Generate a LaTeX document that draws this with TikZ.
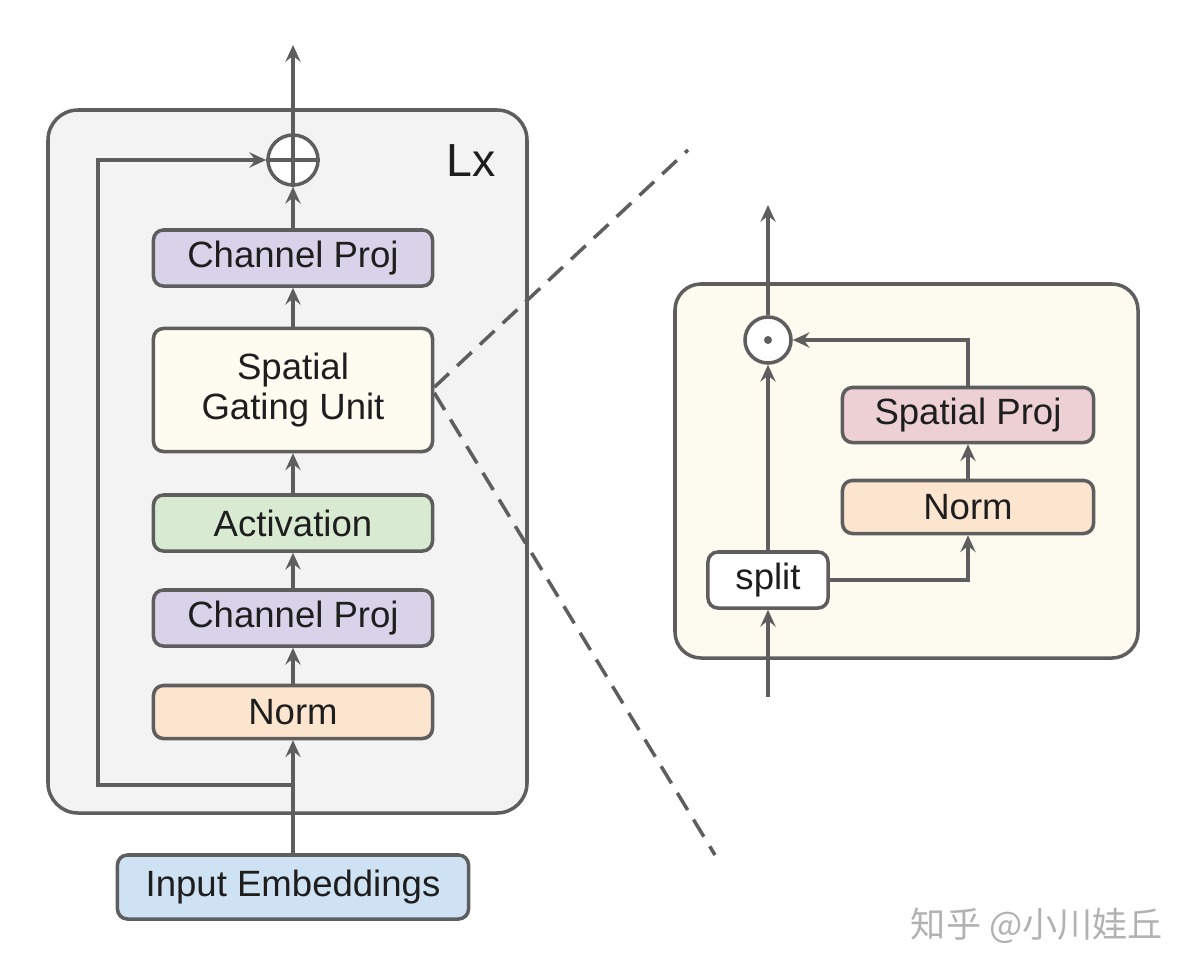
\documentclass[tikz,border=0pt]{standalone}
\usepackage{fontspec}
\setmainfont{Liberation Sans}
\newfontfamily\cjk{Noto Sans CJK SC}
\usetikzlibrary{arrows.meta}
\definecolor{edge}{HTML}{5E5E5E}
\definecolor{txt}{HTML}{1E1E1E}
\definecolor{outerbg}{HTML}{F3F3F3}
\definecolor{innerbg}{HTML}{FDFBEF}
\definecolor{projcol}{HTML}{D9D3EA}
\definecolor{gatecol}{HTML}{FEFCF0}
\definecolor{actcol}{HTML}{D9EAD3}
\definecolor{normcol}{HTML}{FBE5CF}
\definecolor{embcol}{HTML}{CFE2F3}
\definecolor{spcol}{HTML}{EDD0D4}
\tikzset{
  blk/.style={draw=edge, line width=2.5pt, rounded corners=0.25cm, minimum width=6.975cm,
    minimum height=1.4cm, inner sep=0pt, text=txt, font=\fontsize{26}{28.5}\selectfont},
  smallblk/.style={blk, minimum width=6.275cm, minimum height=1.375cm},
  op/.style={draw=edge, line width=2.5pt, circle, fill=white, inner sep=0pt},
  flow/.style={draw=edge, line width=2.5pt, -{Stealth[length=0.42cm,width=0.38cm,inset=0.15cm]}},
  plain/.style={draw=edge, line width=2.5pt},
  zoomline/.style={draw=edge, line width=2.5pt, dash pattern=on 0.5cm off 0.28cm},
  panel/.style={draw=edge, line width=2.5pt, rounded corners=0.75cm}
}
\begin{document}
\begin{tikzpicture}[x=0.025cm,y=-0.025cm]
\useasboundingbox (0,0) rectangle (1198,974);
\draw[panel, fill=outerbg] (48,110) rectangle (527,813);
\draw[panel, fill=innerbg, rounded corners=0.65cm] (675,284) rectangle (1138,658);
\node[text=txt, font=\fontsize{33}{36}\selectfont] (lx) at (471,161) {Lx};
\node[op, minimum size=1.25cm] (plus) at (293,160) {};
\draw[plain] (plus.north) -- (plus.south) (plus.west) -- (plus.east);
\node[blk, fill=projcol] (proj2) at (293,258) {Channel Proj};
\node[blk, fill=gatecol, minimum height=3.075cm, align=center] (sgu) at (293,390) {Spatial\\Gating Unit};
\node[blk, fill=actcol] (act) at (293,523) {Activation};
\node[blk, fill=projcol] (proj1) at (293,618) {Channel Proj};
\node[blk, fill=normcol, minimum height=1.325cm] (norm) at (293,712) {Norm};
\node[blk, fill=embcol, minimum width=8.775cm, minimum height=1.6cm] (emb) at (293,887) {Input Embeddings};
\coordinate (out) at (293,45);
\coordinate (fork) at (293,785);
\coordinate (skip) at (98,785);
\draw[flow] (emb.north) -- (norm.south);
\draw[flow] (norm.north) -- (proj1.south);
\draw[flow] (proj1.north) -- (act.south);
\draw[flow] (act.north) -- (sgu.south);
\draw[flow] (sgu.north) -- (proj2.south);
\draw[flow] (proj2.north) -- (plus.south);
\draw[flow] (plus.north) -- (out);
\draw[flow] (fork) -- (skip) |- (plus.west);
\coordinate (zoomtop) at (688,150);
\coordinate (zoombot) at (715,855);
\draw[zoomline] ([yshift=2pt]sgu.east) -- (zoomtop);
\draw[zoomline] ([yshift=-2pt]sgu.east) -- (zoombot);
\node[op, minimum size=1.15cm] (odot) at (768,340) {};
\fill[edge] (odot.center) circle [radius=0.1cm];
\node[blk, fill=white, minimum width=3cm] (split) at (768,580) {split};
\node[smallblk, fill=spcol] (sproj) at (968,415) {Spatial Proj};
\node[smallblk, fill=normcol, minimum height=1.325cm] (rnorm) at (968,507) {Norm};
\coordinate (rin) at (768,697);
\coordinate (rout) at (768,205);
\draw[flow] (rin) -- (split.south);
\draw[flow] (split.north) -- (odot.south);
\draw[flow] (odot.north) -- (rout);
\draw[flow] (split.east) -| (rnorm.south);
\draw[flow] (rnorm.north) -- (sproj.south);
\draw[flow] (sproj.north) |- (odot.east);
\node[text=black!30, font=\cjk\fontsize{25}{28}\selectfont] (mark) at (1037,926) {知乎 @小川娃丘};
\end{tikzpicture}
\end{document}
